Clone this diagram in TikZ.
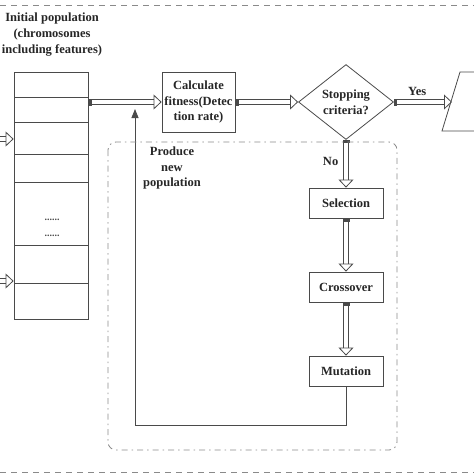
\documentclass[tikz,border=0pt]{standalone}
\usepackage{fontspec}
\setmainfont{Liberation Serif}
\usetikzlibrary{arrows.meta,shapes.geometric}
\definecolor{linegray}{HTML}{4A4A4A}
\definecolor{dashgray}{HTML}{8A8A8A}
\tikzset{
txt/.style={font=\bfseries\fontsize{12.5}{15.5}\selectfont,text=black!85},
box/.style={draw=linegray,thick,rectangle,inner sep=0pt,align=center,txt},
hollow/.style={draw=linegray,double=white,double distance=4.5pt,line width=0.8pt,-{Triangle[open,length=8pt,width=15pt]}},
tab/.style={hollow,{Rectangle[length=3pt,width=7pt]}-{Triangle[open,length=8pt,width=15pt]}},
feed/.style={draw=linegray,thick,-{Triangle[length=9pt,width=7pt]}},
}
\begin{document}
\begin{tikzpicture}[x=1pt,y=-1pt]
\useasboundingbox (0,0) rectangle (474,474);
\draw[dashgray,thick,dash pattern=on 6pt off 5pt](0,5)--(474,5);
\draw[dashgray,thick,dash pattern=on 6pt off 5pt](0,472)--(474,472);
\node[align=center,txt,font=\bfseries\fontsize{12.5}{16}\selectfont](Title) at (52,35) {Initial population\\(chromosomes\\including features)};
\node[box,minimum width=74pt,minimum height=247pt](Pop) at (51,195.5) {};
\foreach \y in {97,122,154,182,245,283}
\draw[linegray,thick](14,\y)--(88,\y);
\node[font=\bfseries\fontsize{10}{10}\selectfont,text=linegray](D1) at (52,220) {......};
\node[font=\bfseries\fontsize{10}{10}\selectfont,text=linegray](D2) at (52,236) {......};
\coordinate(In1) at (-12,139);
\coordinate(In2) at (-12,281);
\draw[hollow](In1)--(Pop.west|-In1);
\draw[hollow](In2)--(Pop.west|-In2);
\node[box,minimum width=73pt,minimum height=60pt](Calc) at (198.5,102) {Calculate\\fitness(Detec\\tion rate)};
\node[box,shape=diamond,aspect=1.27,minimum width=95pt,minimum height=75pt](Stop) at (346,102) {Stopping\\criteria?};
\node[box,minimum width=74pt,minimum height=30pt](Sel) at (346,203) {Selection};
\node[box,minimum width=74pt,minimum height=30pt](Cross) at (346,287) {Crossover};
\node[box,minimum width=74pt,minimum height=30pt](Mut) at (346,371) {Mutation};
\draw[linegray,thick](460,72)--(490,72)--(490,131)--(442,131)--cycle;
\coordinate(Out) at (452,102);
\draw[tab](Pop.east|-Calc)--(Calc.west);
\draw[tab](Calc.east)--(Stop.west);
\draw[tab](Stop.east)--node[pos=.4,above=3pt,txt] {Yes}(Out);
\draw[tab](Stop.south)--node[pos=.45,left=4pt,txt] {No}(Sel.north);
\draw[tab](Sel.south)--(Cross.north);
\draw[tab](Cross.south)--(Mut.north);
\coordinate(Back) at (135,425);
\coordinate(Up) at (135,109);
\draw[feed](Mut.south)|-(Back)--(Up);
\draw[dashgray,thick,rounded corners=8pt,dash pattern=on 6pt off 4pt on 1.5pt off 4pt](108,142) rectangle (397,450);
\node[align=center,txt](Prod) at (172,168) {Produce\\new\\population};
\end{tikzpicture}
\end{document}
